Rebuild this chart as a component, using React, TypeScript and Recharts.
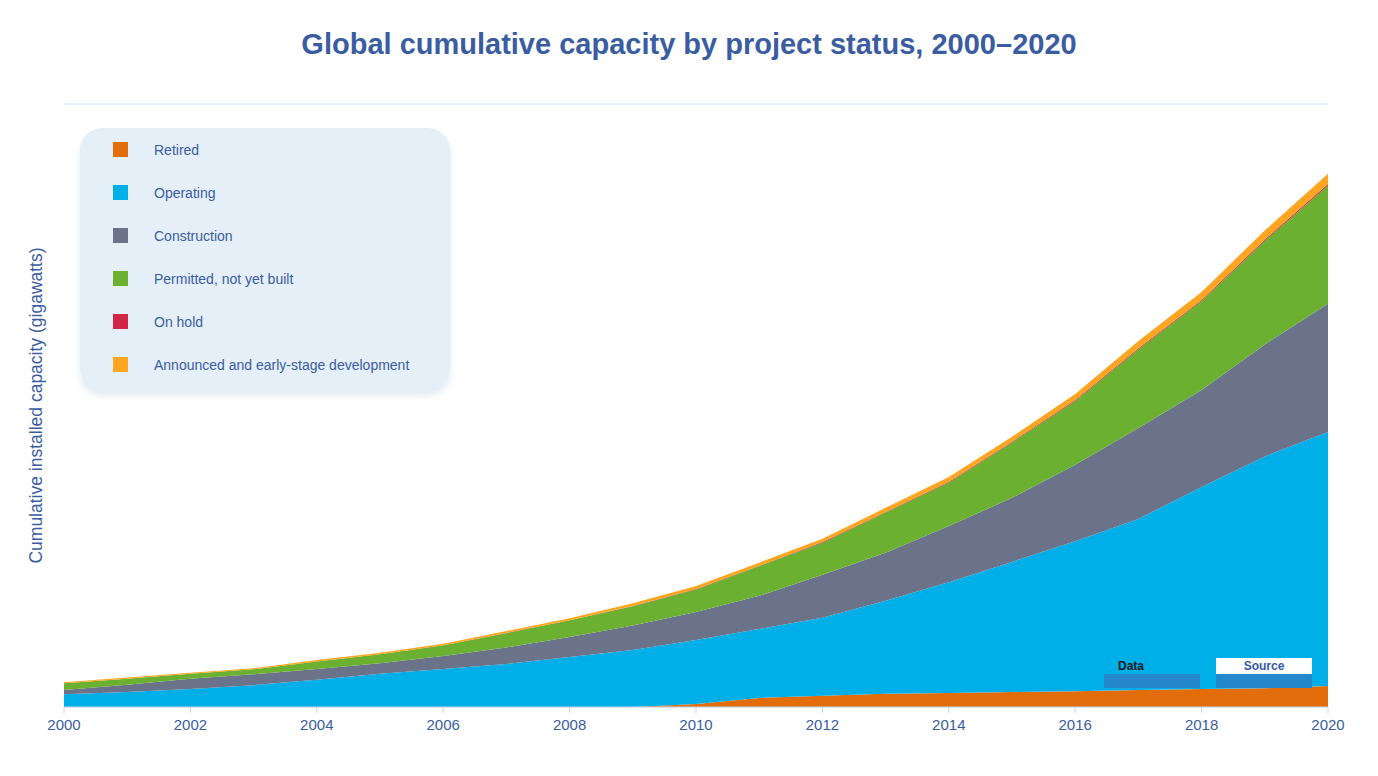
import React from 'react';
import { AreaChart, Area, XAxis, YAxis, CartesianGrid } from 'recharts';

const years = [2000, 2001, 2002, 2003, 2004, 2005, 2006, 2007, 2008, 2009, 2010, 2011, 2012, 2013, 2014, 2015, 2016, 2017, 2018, 2019, 2020];
const retired = [0, 0, 0, 0, 0, 0, 0, 0, 0, 0, 8, 24, 30, 35, 37, 40, 42, 45, 48, 50, 56];
const operating = [34, 40, 48, 58, 72, 88, 101, 114, 133, 151, 170, 183, 207, 247, 294, 345, 398, 454, 536, 615, 674];
const construction = [11, 19, 27, 29, 29, 28, 34, 44, 53, 65, 74, 88, 114, 127, 149, 170, 203, 241, 257, 297, 340];
const permitted = [18, 16, 13, 13, 20, 24, 29, 38, 44, 51, 60, 79, 85, 107, 116, 147, 169, 209, 236, 275, 314];
const onHold = [0, 0, 0, 0, 0, 0, 0, 0.5, 0.5, 1, 1, 1, 1.5, 1.5, 2, 2, 2.5, 3, 3, 3.5, 4];
const announced = [3, 3, 3, 3, 4, 4, 4, 5, 5, 7, 8, 8, 9, 11, 12, 13, 16, 19, 21, 24, 27];

const yTicks = [0, 200, 400, 600, 800, 1000, 1200, 1400, 1600];

const seriesKeys = ['retired', 'operating', 'construction', 'permitted', 'onHold', 'announced'];
const seriesNames = ['Retired', 'Operating', 'Construction', 'Permitted, not yet built', 'On hold', 'Announced and early-stage development'];
const seriesColors = ['#E36C0B', '#00AEE8', '#6A7389', '#6BB030', '#CF2745', '#FEA522'];
const seriesValues = [retired, operating, construction, permitted, onHold, announced];

const titleText = 'Global cumulative capacity by project status, 2000–2020';
const yLabelText = 'Cumulative installed capacity (gigawatts)';

const data = years.map((y, i) => {
  const row: Record<string, number | string> = { year: String(y) };
  seriesKeys.forEach((k, j) => {
    row[k] = seriesValues[j][i];
  });
  return row;
});

const FONT = '"Liberation Sans", Arial, sans-serif';
const TEXT_COLOR = '#3A5DA2';

export default function App() {
  return (
    <div style={{ position: 'relative', width: 1362, height: 760, fontFamily: FONT }}>
      <div
        style={{
          position: 'absolute',
          top: 20,
          left: 0,
          width: 1362,
          textAlign: 'center',
          fontSize: 29,
          fontWeight: 700,
          color: TEXT_COLOR,
        }}
      >
        {titleText}
      </div>
      <AreaChart
        width={1362}
        height={760}
        data={data}
        margin={{ top: 96, right: 42, bottom: 31, left: 0 }}
      >
        <CartesianGrid vertical={false} stroke="#D4E3F2" />
        <XAxis
          dataKey="year"
          interval={1}
          tickLine={{ stroke: '#C8D6E8' }}
          axisLine={{ stroke: '#C8D6E8' }}
          tickSize={6}
          tickMargin={6}
          height={30}
          tick={{ fill: TEXT_COLOR, fontSize: 15, fontFamily: FONT }}
        />
        <YAxis
          width={56}
          domain={[0, 1600]}
          ticks={yTicks}
          tick={false}
          tickLine={false}
          axisLine={false}
          label={{
            value: yLabelText,
            angle: -90,
            position: 'center',
            fill: TEXT_COLOR,
            fontSize: 17.5,
            fontFamily: FONT,
          }}
        />
        {seriesKeys.map((k, j) => (
          <Area
            key={k}
            type="linear"
            dataKey={k}
            name={seriesNames[j]}
            stackId="1"
            stroke="none"
            fill={seriesColors[j]}
            fillOpacity={1}
            isAnimationActive={false}
          />
        ))}
      </AreaChart>
      <div
        style={{
          position: 'absolute',
          left: 72,
          top: 120,
          width: 370,
          height: 262,
          background: '#E5EFF8',
          borderRadius: 22,
          boxShadow: '0 6px 6px rgba(200,220,238,0.5)',
        }}
      >
        {seriesKeys.map((k, j) => (
          <div
            key={k}
            style={{ height: 43, display: 'flex', alignItems: 'center', paddingLeft: 33 }}
          >
            <span
              style={{
                display: 'inline-block',
                width: 15,
                height: 15,
                background: seriesColors[j],
                marginRight: 26,
              }}
            />
            <span style={{ fontSize: 14, color: TEXT_COLOR }}>{seriesNames[j]}</span>
          </div>
        ))}
      </div>
      <div style={{ position: 'absolute', left: 1096, top: 650, width: 96, height: 30 }}>
        <div style={{ height: 16, fontSize: 12, fontWeight: 700, color: '#1B1B1B', paddingLeft: 14, lineHeight: '16px' }}>
          Data
        </div>
        <div style={{ height: 14, background: '#2688CC' }} />
      </div>
      <div style={{ position: 'absolute', left: 1208, top: 650, width: 96, height: 30 }}>
        <div style={{ height: 16, fontSize: 12, fontWeight: 700, color: '#3558A8', background: '#FFFFFF', textAlign: 'center', lineHeight: '16px' }}>
          Source
        </div>
        <div style={{ height: 14, background: '#2688CC' }} />
      </div>
    </div>
  );
}
